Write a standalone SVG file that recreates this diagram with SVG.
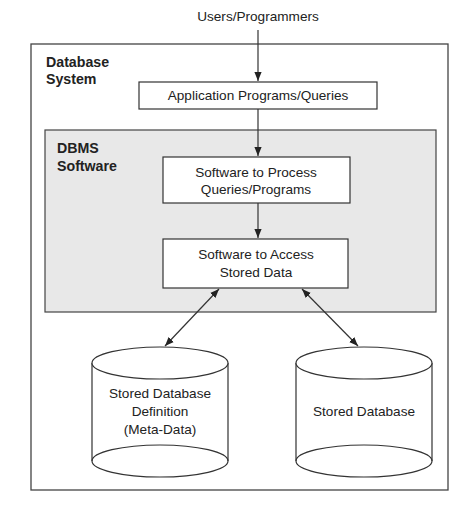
<svg xmlns="http://www.w3.org/2000/svg" width="474" height="513" viewBox="0 0 474 513">
<style>
text{font-family:"Liberation Sans",Arial,sans-serif;font-size:13.6px;fill:#222}
.b{font-weight:bold;font-size:14.2px}
.box{fill:#fff;stroke:#333;stroke-width:1.2}
.ln{stroke:#333;stroke-width:1.2;fill:none}
</style>
<defs>
<marker id="ah" viewBox="0 0 10 10" refX="10" refY="5" markerWidth="9" markerHeight="9" markerUnits="userSpaceOnUse" orient="auto-start-reverse">
<path d="M0,1 L10,5 L0,9 z" fill="#222"/>
</marker>
</defs>
<rect width="474" height="513" fill="#fff"/>
<g id="users"><text x="258" y="21" text-anchor="middle">Users/Programmers</text></g>
<g id="database-system">
<rect x="31" y="44" width="417" height="446" fill="#fff" stroke="#444" stroke-width="1.3"/>
<text x="46" y="67" class="b">Database</text>
<text x="46" y="84" class="b">System</text>
</g>
<g id="app"><rect class="box" x="139" y="82" width="238" height="27"/>
<text x="258" y="100" text-anchor="middle">Application Programs/Queries</text></g>
<g id="dbms">
<rect x="45" y="130" width="391" height="182" fill="#e8e8e8" stroke="#444" stroke-width="1.2"/>
<text x="57" y="153" class="b">DBMS</text>
<text x="57" y="171" class="b">Software</text>
</g>
<g id="process"><rect class="box" x="163" y="157" width="187" height="46"/>
<text x="256" y="177" text-anchor="middle">Software to Process</text>
<text x="256" y="194" text-anchor="middle">Queries/Programs</text></g>
<g id="access"><rect class="box" x="163" y="239" width="185" height="49"/>
<text x="256" y="259" text-anchor="middle">Software to Access</text>
<text x="256" y="277" text-anchor="middle">Stored Data</text></g>
<g id="meta">
<path class="box" d="M92,363 L92,461 A68,16 0 0 0 228,461 L228,363"/>
<ellipse class="box" cx="160" cy="363" rx="68" ry="16"/>
<path class="ln" d="M92,461 A68,16 0 0 1 228,461"/>
<text x="160" y="398" text-anchor="middle">Stored Database</text>
<text x="160" y="416" text-anchor="middle">Definition</text>
<text x="160" y="434" text-anchor="middle">(Meta-Data)</text>
</g>
<g id="stored">
<path class="box" d="M296,363 L296,461 A68,16 0 0 0 432,461 L432,363"/>
<ellipse class="box" cx="364" cy="363" rx="68" ry="16"/>
<path class="ln" d="M296,461 A68,16 0 0 1 432,461"/>
<text x="364" y="416" text-anchor="middle">Stored Database</text>
</g>
<g id="connectors">
<line class="ln" x1="258" y1="30" x2="258" y2="81" marker-end="url(#ah)"/>
<line class="ln" x1="258" y1="109" x2="258" y2="156" marker-end="url(#ah)"/>
<line class="ln" x1="258" y1="203" x2="258" y2="238" marker-end="url(#ah)"/>
<line class="ln" x1="219" y1="289" x2="165" y2="346" marker-start="url(#ah)" marker-end="url(#ah)"/>
<line class="ln" x1="302" y1="289" x2="358" y2="346" marker-start="url(#ah)" marker-end="url(#ah)"/>
</g>
</svg>
